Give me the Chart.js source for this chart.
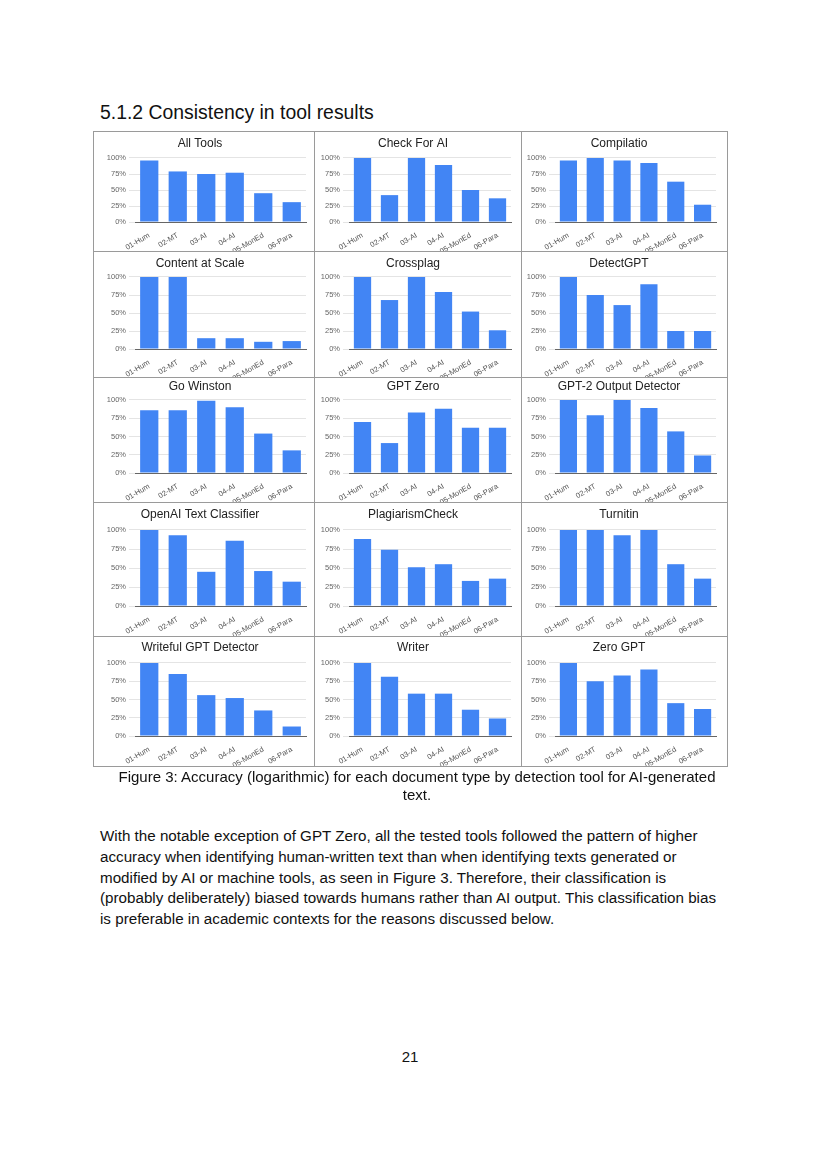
<!DOCTYPE html>
<html>
<head>
<meta charset="utf-8">
<title>5.1.2 Consistency in tool results</title>
<script src="https://cdn.jsdelivr.net/npm/chart.js@4.4.0/dist/chart.umd.min.js"></script>
<style>
body { margin: 0; background: #fff; font-family: "Liberation Sans", Arial, sans-serif; color: #111; }
#page { position: relative; width: 827px; height: 1169px; overflow: hidden; background: #fff; }
#heading { position: absolute; left: 100px; top: 103px; font-size: 19.4px; line-height: 19px; white-space: nowrap; }
.panel { position: absolute; box-sizing: border-box; border: 1px solid #9a9a9a; background: #fff; }
.panel canvas { display: block; }
#caption { position: absolute; left: 97px; width: 640px; top: 768px; font-size: 15px; line-height: 18px; text-align: center; white-space: nowrap; }
#para { position: absolute; left: 100px; top: 826px; font-size: 15.2px; line-height: 20.8px; white-space: nowrap; }
#pagenum { position: absolute; left: 380px; width: 60px; top: 1048px; font-size: 15px; line-height: 18px; text-align: center; }
</style>
</head>
<body>
<div id="page">
  <div id="heading">5.1.2 Consistency in tool results</div>
  <div id="grid"></div>
  <div id="caption">Figure 3: Accuracy (logarithmic) for each document type by detection tool for AI-generated<br>text.</div>
  <div id="para">With the notable exception of GPT Zero, all the tested tools followed the pattern of higher<br>accuracy when identifying human-written text than when identifying texts generated or<br>modified by AI or machine tools, as seen in Figure 3. Therefore, their classification is<br>(probably deliberately) biased towards humans rather than AI output. This classification bias<br>is preferable in academic contexts for the reasons discussed below.</div>
  <div id="pagenum">21</div>
</div>
<script>
// document types on the x axis
const categories = ['01-Hum', '02-MT', '03-AI', '04-AI', '05-MonEd', '06-Para'];
const yTicks = [0, 25, 50, 75, 100];

// accuracy (%) per document type
const allTools = [96, 79, 75, 77, 45, 31];
const checkForAI = [100, 42, 100, 89, 50, 37];
const compilatio = [96, 100, 96, 92, 63, 27];
const contentAtScale = [100, 100, 15, 15, 10, 11];
const crossplag = [100, 68, 100, 79, 52, 26];
const detectGPT = [100, 75, 61, 90, 25, 25];
const goWinston = [86, 86, 99, 90, 54, 31];
const gptZero = [70, 41, 83, 88, 62, 62];
const gpt2Detector = [100, 79, 100, 89, 57, 24];
const openAIClassifier = [100, 93, 45, 86, 46, 32];
const plagiarismCheck = [88, 74, 51, 55, 33, 36];
const turnitin = [100, 100, 93, 100, 55, 36];
const writeful = [100, 85, 56, 52, 35, 13];
const writer = [100, 81, 58, 58, 36, 24];
const zeroGPT = [100, 75, 83, 91, 45, 37];

const toolNames = [
    'All Tools', 'Check For AI', 'Compilatio',
    'Content at Scale', 'Crossplag', 'DetectGPT',
    'Go Winston', 'GPT Zero', 'GPT-2 Output Detector',
    'OpenAI Text Classifier', 'PlagiarismCheck', 'Turnitin',
    'Writeful GPT Detector', 'Writer', 'Zero GPT'
];
const toolSeries = [
    allTools, checkForAI, compilatio,
    contentAtScale, crossplag, detectGPT,
    goWinston, gptZero, gpt2Detector,
    openAIClassifier, plagiarismCheck, turnitin,
    writeful, writer, zeroGPT
];

// page geometry of the 3x5 grid of panels
const rows = [
    { top: 131, bottom: 252, title: 144, plotTop: 158, plotBottom: 222 },
    { top: 251, bottom: 378, title: 264, plotTop: 277, plotBottom: 349 },
    { top: 377, bottom: 503, title: 387, plotTop: 400, plotBottom: 473 },
    { top: 502, bottom: 637, title: 515, plotTop: 530, plotBottom: 606 },
    { top: 636, bottom: 766, title: 648, plotTop: 663, plotBottom: 736 }
];
const cols = [
    { left: 93, right: 314, plotLeft: 135, plotRight: 306 },
    { left: 314, right: 521, plotLeft: 349, plotRight: 511 },
    { left: 521, right: 727, plotLeft: 555, plotRight: 716 }
];

function drawPanel(index) {
    var row = rows[Math.floor(index / 3)];
    var col = cols[index % 3];
    var w = col.right - col.left + 1;
    var h = row.bottom - row.top + 1;

    var panel = document.createElement('div');
    panel.className = 'panel';
    panel.style.left = col.left + 'px';
    panel.style.top = row.top + 'px';
    panel.style.width = w + 'px';
    panel.style.height = h + 'px';
    var canvas = document.createElement('canvas');
    canvas.width = w - 2;
    canvas.height = h - 2;
    canvas.style.width = (w - 2) + 'px';
    canvas.style.height = (h - 2) + 'px';
    panel.appendChild(canvas);
    document.getElementById('grid').appendChild(panel);

    var padTop = row.title - (row.top + 1) - 7.2;
    var padBottom = row.plotTop - (row.top + 1) - padTop - 14.4;
    var yWidth = col.plotLeft - (col.left + 1);
    var xHeight = row.bottom - row.plotBottom;

    new Chart(canvas.getContext('2d'), {
        type: 'bar',
        data: {
            labels: categories,
            datasets: [{
                label: toolNames[index],
                data: toolSeries[index],
                backgroundColor: '#4285F4',
                borderWidth: 0,
                barPercentage: 0.8,
                categoryPercentage: 0.8
            }]
        },
        options: {
            responsive: false,
            animation: false,
            layout: { padding: { left: 0, right: col.right - col.plotRight, top: 0, bottom: 0 } },
            plugins: {
                legend: { display: false },
                tooltip: { enabled: false },
                title: {
                    display: true,
                    text: toolNames[index],
                    color: '#222',
                    font: { family: 'Liberation Sans', size: 12, weight: 'normal' },
                    padding: { top: padTop, bottom: padBottom }
                }
            },
            scales: {
                x: {
                    grid: { display: false },
                    border: { color: '#666', width: 1 },
                    ticks: {
                        color: '#555',
                        font: { family: 'Liberation Sans', size: 7.5 },
                        minRotation: 30,
                        maxRotation: 30,
                        autoSkip: false,
                        padding: 1
                    },
                    afterFit: function(scale) { scale.height = xHeight; }
                },
                y: {
                    min: 0,
                    max: 100,
                    afterBuildTicks: function(scale) {
                        scale.ticks = yTicks.map(function(v) { return { value: v }; });
                    },
                    grid: { color: '#e4e4e4', tickLength: 6 },
                    border: { display: false },
                    ticks: {
                        color: '#666',
                        font: { family: 'Liberation Sans', size: 7.5 },
                        padding: 3,
                        callback: function(v) { return v + '%'; }
                    },
                    afterFit: function(scale) { scale.width = yWidth; }
                }
            }
        }
    });
}

for (var i = 0; i < toolNames.length; i++) {
    drawPanel(i);
}
</script>
</body>
</html>
